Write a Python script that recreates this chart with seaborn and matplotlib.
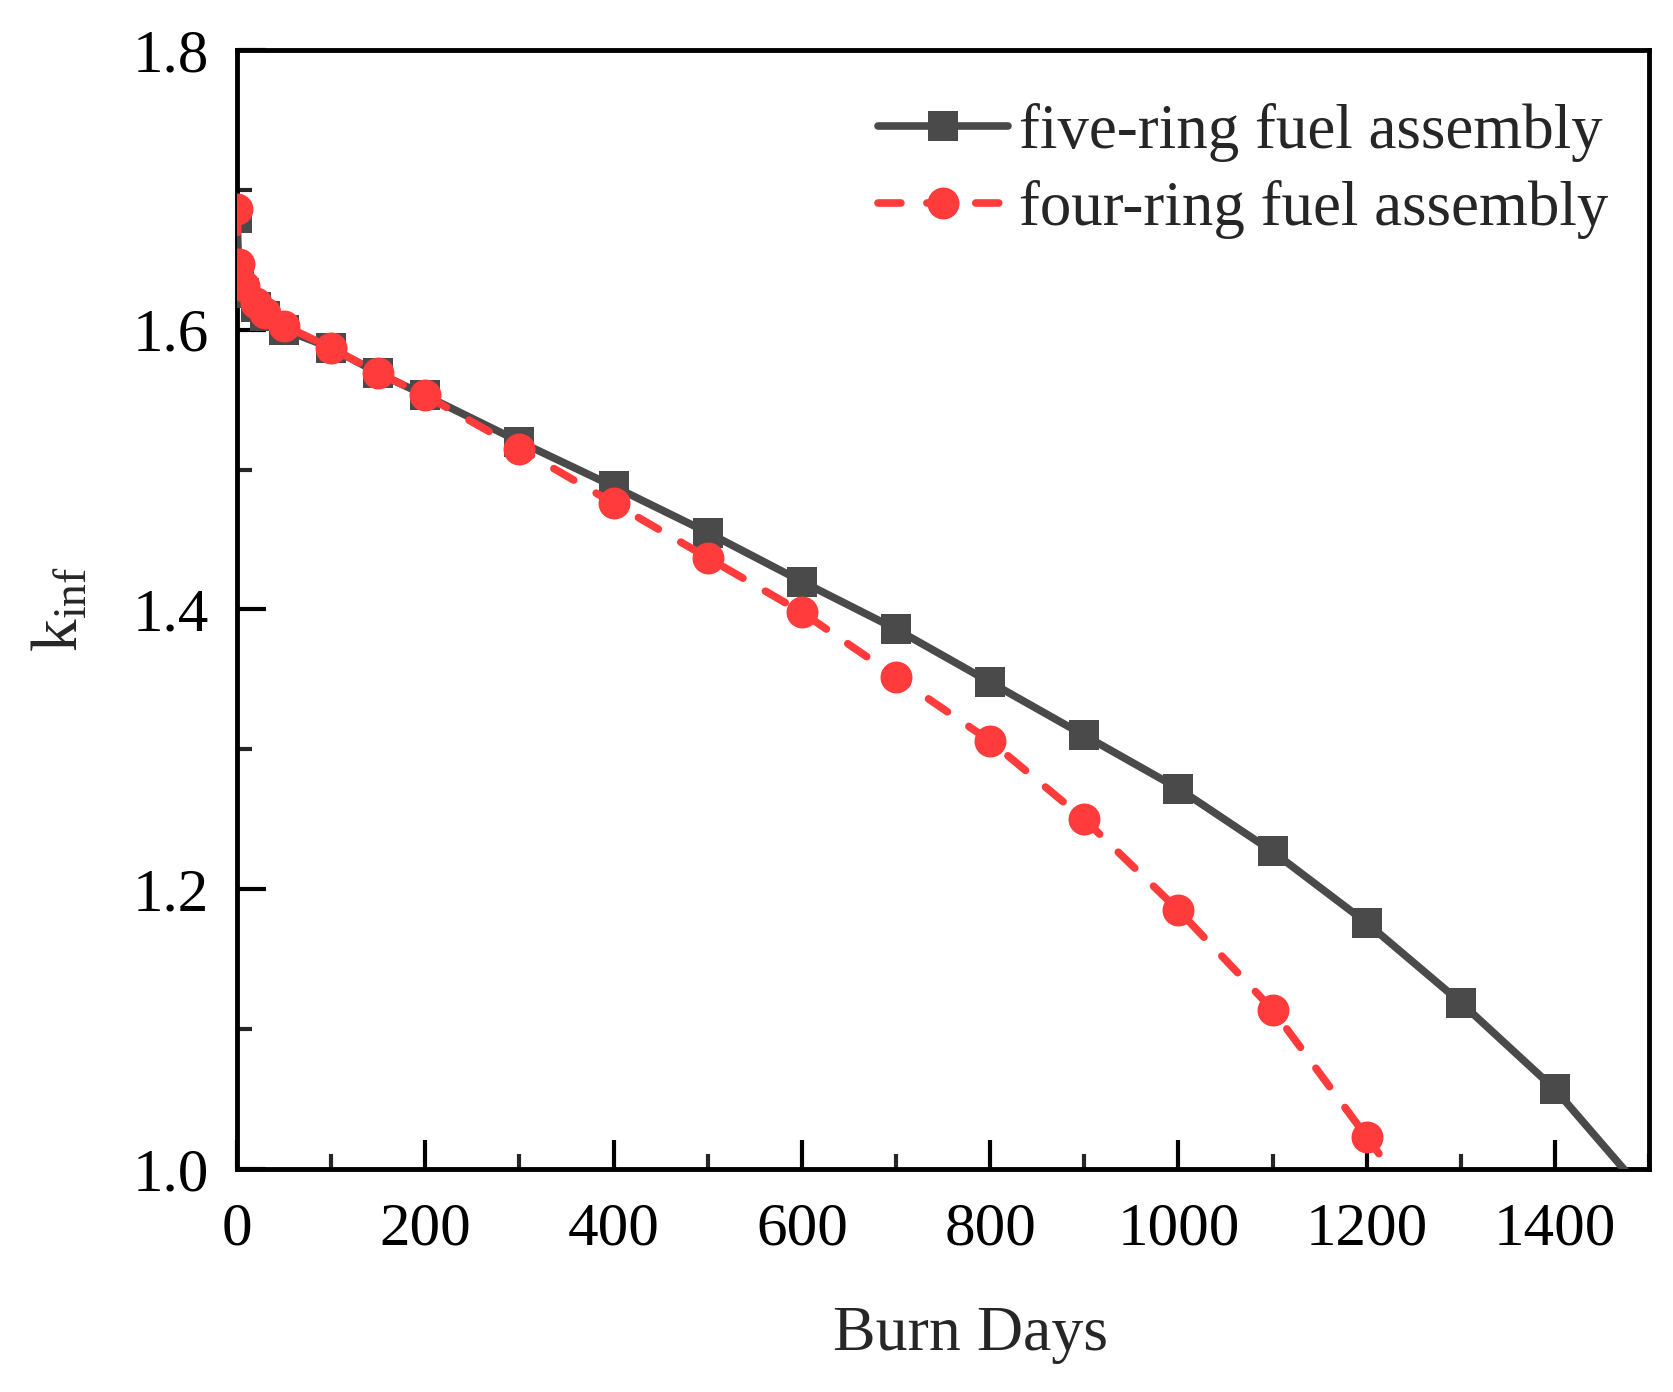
import matplotlib
matplotlib.use('Agg')
import matplotlib.pyplot as plt
import seaborn as sns
import pandas as pd
from matplotlib.lines import Line2D
from matplotlib.ticker import MultipleLocator

# ---- data ----
five_days = [0, 2, 7, 20, 30, 50, 100, 150, 200, 300, 400, 500, 600, 700,
             800, 900, 1000, 1100, 1200, 1300, 1400, 1500]
five_kinf = [1.680, 1.637, 1.626, 1.616, 1.610, 1.600, 1.587, 1.569, 1.553,
             1.520, 1.488, 1.455, 1.420, 1.386, 1.348, 1.310, 1.272, 1.227,
             1.176, 1.119, 1.057, 0.979]
four_days = [0, 2, 7, 20, 30, 50, 100, 150, 200, 300, 400, 500, 600, 700,
             800, 900, 1000, 1100, 1200, 1213]
four_kinf = [1.686, 1.647, 1.631, 1.619, 1.612, 1.603, 1.587, 1.569, 1.553,
             1.515, 1.476, 1.437, 1.398, 1.352, 1.306, 1.250, 1.185, 1.114,
             1.023, 1.011]
labels = ['five-ring fuel assembly', 'four-ring fuel assembly']
x_ticks = [0, 200, 400, 600, 800, 1000, 1200, 1400]
y_ticks = [1.0, 1.2, 1.4, 1.6, 1.8]

five_df = pd.DataFrame({'Burn Days': five_days, 'kinf': five_kinf})
four_df = pd.DataFrame({'Burn Days': four_days, 'kinf': four_kinf})

sns.set_theme(style='ticks')
plt.rcParams['font.family'] = ['Liberation Serif', 'DejaVu Serif']
plt.rcParams['mathtext.fontset'] = 'custom'
plt.rcParams['mathtext.rm'] = 'Liberation Serif'
plt.rcParams['mathtext.it'] = 'Liberation Serif:italic'

GRAY = '#4a4a4a'
RED = '#ff3b3b'
LW = 5.5
DASH = (0, (3.0, 3.4))

fig = plt.figure(figsize=(16.74, 13.92), dpi=100)
ax = fig.add_axes([0.1416, 0.1602, 0.8435, 0.8039])

sns.lineplot(data=five_df, x='Burn Days', y='kinf', ax=ax, color=GRAY,
             linewidth=LW, marker='s', markersize=21, markeredgewidth=0,
             markeredgecolor=GRAY, errorbar=None, sort=False, zorder=3)
sns.lineplot(data=four_df, x='Burn Days', y='kinf', ax=ax, color=RED,
             linewidth=LW, linestyle=DASH, dash_capstyle='round',
             marker='o', markersize=23, markeredgewidth=0,
             markeredgecolor=RED, markevery=list(range(len(four_days) - 1)),
             errorbar=None, sort=False, zorder=4)

ax.set_xlim(0, 1500)
ax.set_ylim(1.0, 1.8)
ax.set_xticks(x_ticks)
ax.set_yticks(y_ticks)
ax.set_yticklabels([f'{v:.1f}' for v in y_ticks])
ax.xaxis.set_minor_locator(MultipleLocator(100))
ax.yaxis.set_minor_locator(MultipleLocator(0.1))
ax.tick_params(which='major', direction='in', length=21, width=3,
               labelsize=44, colors='black', top=False, right=False)
ax.tick_params(axis='x', which='major', pad=24)
ax.tick_params(axis='y', which='major', pad=20)
ax.tick_params(which='minor', direction='in', length=10.5, width=3,
               top=False, right=False)
for sp in ax.spines.values():
    sp.set_linewidth(3.5)
    sp.set_color('black')
    sp.set_visible(True)

ax.set_xlabel('Burn Days', fontsize=46)
ax.xaxis.label.set_va('center')
ax.xaxis.set_label_coords(0.5194, -0.148)
ax.set_ylabel(r'$\mathrm{k_{inf}}$', fontsize=47, labelpad=30)

handles = [
    Line2D([], [], color=GRAY, linewidth=LW, marker='s', markersize=21,
           markeredgewidth=0),
    Line2D([], [], color=RED, linewidth=LW, linestyle=DASH,
           dash_capstyle='round', marker='o', markersize=23,
           markeredgewidth=0),
]
ax.legend(handles, labels, loc='upper left', bbox_to_anchor=(0.4536, 0.953),
          frameon=False, fontsize=45.3, handlelength=2.08, handletextpad=0.17,
          labelspacing=0.3, borderpad=0, borderaxespad=0)

fig.savefig('out.png', dpi=100)
